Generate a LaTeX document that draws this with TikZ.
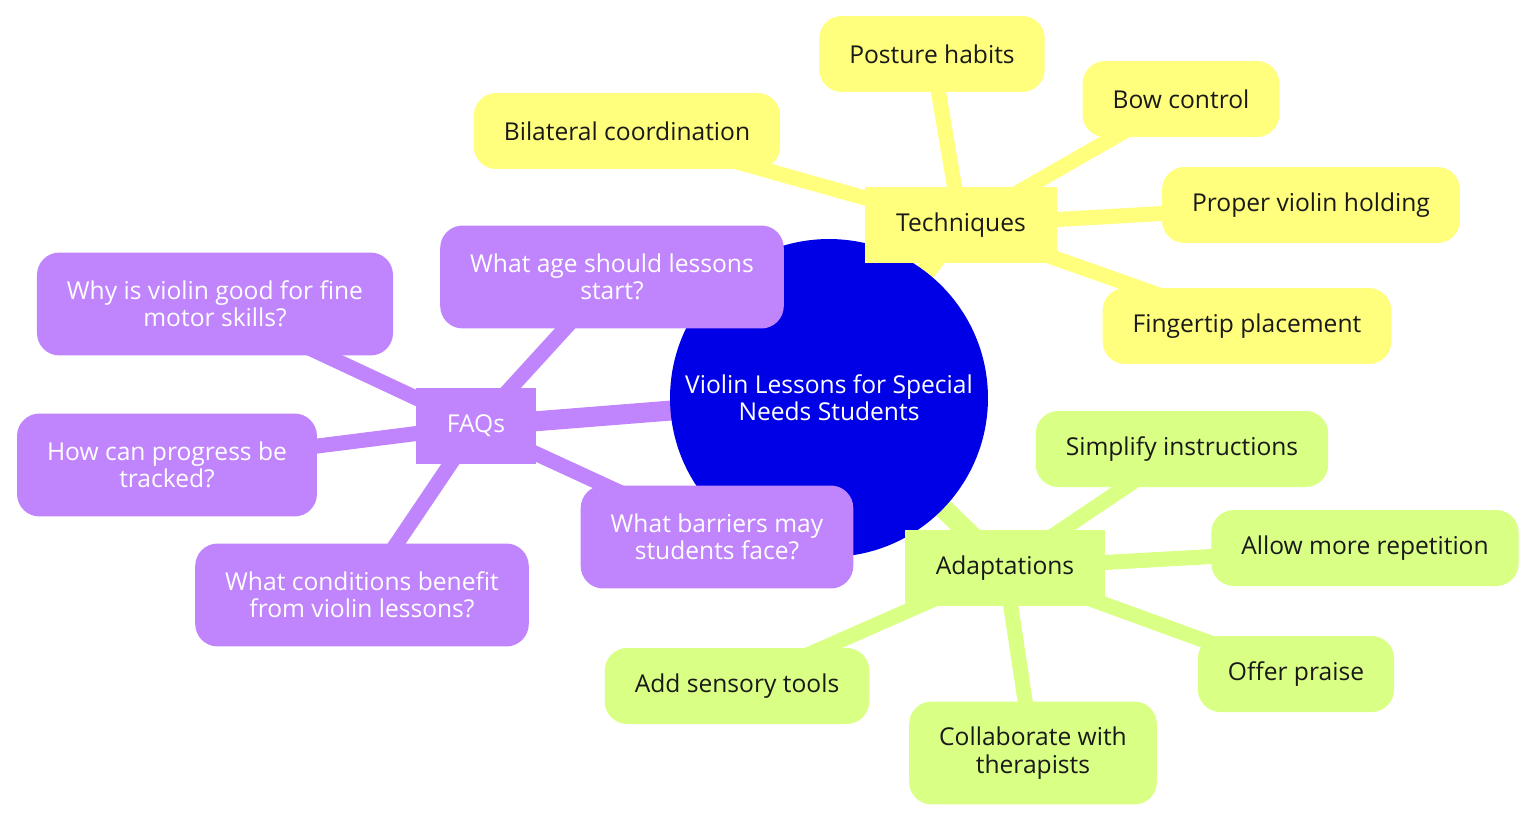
\documentclass[tikz,border=0pt]{standalone}
\usepackage{fontspec}
\setmainfont{Open Sans}
\usepackage{xcolor}
\usepackage{tikz}
\usetikzlibrary{backgrounds}
\definecolor{mmroot}{RGB}{0,0,230}
\definecolor{mmtech}{RGB}{255,255,125}
\definecolor{mmfaq}{RGB}{192,132,252}
\definecolor{mmadapt}{RGB}{217,255,132}
\definecolor{mmink}{RGB}{25,25,25}

\begin{document}
\begin{tikzpicture}[x=0.02cm, y=-0.02cm,
  every node/.style={font=\fontsize{14pt}{15.5pt}\selectfont, align=center},
  rootnode/.style={circle, fill=mmroot, text=white, minimum size=6.36cm, inner sep=0pt},
  section/.style={fill=#1, minimum height=1.52cm, inner xsep=0.62cm},
  leaf/.style={fill=#1, rounded corners=0.45cm, minimum height=1.52cm, inner xsep=0.6cm},
  twoline/.style={minimum height=2.06cm},
  trunk/.style={line width=0.4cm, draw=#1},
  branch/.style={line width=0.3cm, draw=#1}
]
\useasboundingbox (0,0) rectangle (1536,822);

% root and sections
\node[rootnode] (root) at (829,398) {Violin Lessons for Special\\Needs Students};
\node[section=mmtech, text=mmink] (tech) at (961,225) {Techniques};
\node[section=mmfaq, text=white] (faq) at (476,426) {FAQs};
\node[section=mmadapt, text=mmink] (adapt) at (1005,568) {Adaptations};

% techniques
\node[leaf=mmtech, text=mmink] (posture) at (932,54) {Posture habits};
\node[leaf=mmtech, text=mmink] (bow) at (1181,99) {Bow control};
\node[leaf=mmtech, text=mmink] (bilateral) at (627,131) {Bilateral coordination};
\node[leaf=mmtech, text=mmink] (holding) at (1311,205) {Proper violin holding};
\node[leaf=mmtech, text=mmink] (fingertip) at (1247,326) {Fingertip placement};

% faqs
\node[leaf=mmfaq, twoline, text=white] (age) at (612,277) {What age should lessons\\start?};
\node[leaf=mmfaq, twoline, text=white] (motor) at (215,304) {Why is violin good for fine\\motor skills?};
\node[leaf=mmfaq, twoline, text=white] (progress) at (167,465) {How can progress be\\tracked?};
\node[leaf=mmfaq, twoline, text=white] (conditions) at (362,595) {What conditions benefit\\from violin lessons?};
\node[leaf=mmfaq, twoline, text=white] (barriers) at (717,537) {What barriers may\\students face?};

% adaptations
\node[leaf=mmadapt, text=mmink] (simplify) at (1182,449) {Simplify instructions};
\node[leaf=mmadapt, text=mmink] (repeat) at (1365,548) {Allow more repetition};
\node[leaf=mmadapt, text=mmink] (praise) at (1296,674) {Offer praise};
\node[leaf=mmadapt, twoline, text=mmink] (therapists) at (1033,753) {Collaborate with\\therapists};
\node[leaf=mmadapt, text=mmink] (sensory) at (737,686) {Add sensory tools};

% connectors behind the nodes
\begin{scope}[on background layer]
\draw[trunk=mmtech] (root.center) -- (tech.center);
\draw[trunk=mmfaq] (root.center) -- (faq.center);
\draw[trunk=mmadapt] (root.center) -- (adapt.center);
\foreach \leafname in {posture,bow,bilateral,holding,fingertip}
  \draw[branch=mmtech] (tech.center) -- (\leafname.center);
\foreach \leafname in {age,motor,progress,conditions,barriers}
  \draw[branch=mmfaq] (faq.center) -- (\leafname.center);
\foreach \leafname in {simplify,repeat,praise,therapists,sensory}
  \draw[branch=mmadapt] (adapt.center) -- (\leafname.center);
\end{scope}
\end{tikzpicture}
\end{document}
